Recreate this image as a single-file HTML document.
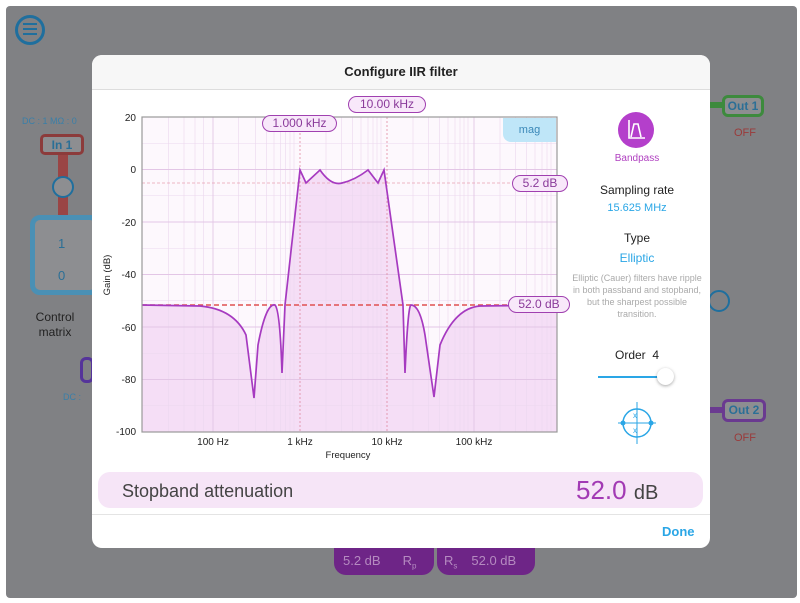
<!DOCTYPE html>
<html><head><meta charset="utf-8"><style>
body{margin:0;width:800px;height:603px;background:#fff;position:relative;overflow:hidden;font-family:"Liberation Sans",sans-serif}
.a{position:absolute}
.bg{left:6px;top:6px;width:791px;height:592px;background:#808184;border-radius:4px}
.modal{left:92px;top:55px;width:618px;height:493px;background:#fff;border-radius:10px;overflow:hidden}
.c{text-align:center}
.pill{border:1.5px solid #a040b0;border-radius:10px;background:#f8e8fa;color:#8a3a9a;font-size:12px;text-align:center;line-height:15px}
</style></head><body>
<div class="a bg"></div>
<div class="a" style="left:15px;top:15px;width:30px;height:30px;border:3px solid #1f6f9e;border-radius:50%;box-sizing:border-box"></div>
<div class="a" style="left:23px;top:23px;width:14px;height:2px;background:#1f6f9e;box-shadow:0 5px #1f6f9e,0 10px #1f6f9e"></div>
<div class="a" style="left:22px;top:116px;font-size:9px;color:#3a7fa8">DC : 1 MΩ : 0</div>
<div class="a" style="left:40px;top:134px;width:44px;height:21px;border:3px solid #8c3b3b;border-radius:5px;background:#8d8e91;box-sizing:border-box;color:#2b6f96;font-size:12px;font-weight:bold;text-align:center;line-height:16px">In 1</div>
<div class="a" style="left:58px;top:155px;width:10px;height:60px;background:#9a4545"></div>
<div class="a" style="left:52px;top:176px;width:22px;height:22px;border:2px solid #1f6f9e;border-radius:50%;background:#8d8e91;box-sizing:border-box"></div>
<div class="a" style="left:30px;top:215px;width:70px;height:80px;border:5px solid #4a90b5;border-radius:10px;background:#8d8e91;box-sizing:border-box"></div>
<div class="a" style="left:58px;top:236px;color:#2b6f96;font-size:13px">1</div>
<div class="a" style="left:58px;top:268px;color:#2b6f96;font-size:13px">0</div>
<div class="a c" style="left:20px;top:310px;width:70px;font-size:12px;color:#222;line-height:15px">Control<br>matrix</div>
<div class="a" style="left:80px;top:357px;width:14px;height:26px;border:3px solid #55349a;border-radius:6px;box-sizing:border-box"></div>
<div class="a" style="left:63px;top:392px;font-size:9px;color:#3a7fa8">DC : </div>
<div class="a" style="left:710px;top:102px;width:14px;height:6px;background:#3d8a3d"></div>
<div class="a" style="left:722px;top:95px;width:42px;height:22px;border:3px solid #3d8a3d;border-radius:6px;background:#8d8e91;box-sizing:border-box;color:#2b6f96;font-size:12px;font-weight:bold;text-align:center;line-height:16px">Out 1</div>
<div class="a" style="left:734px;top:127px;font-size:11px;color:#9a3a3a">OFF</div>
<div class="a" style="left:708px;top:290px;width:22px;height:22px;border:2px solid #1f6f9e;border-radius:50%;box-sizing:border-box"></div>
<div class="a" style="left:710px;top:407px;width:14px;height:6px;background:#6a3a90"></div>
<div class="a" style="left:722px;top:399px;width:44px;height:23px;border:3px solid #6a3a90;border-radius:6px;background:#8d8e91;box-sizing:border-box;color:#2b6f96;font-size:12px;font-weight:bold;text-align:center;line-height:17px">Out 2</div>
<div class="a" style="left:734px;top:432px;font-size:11px;color:#9a3a3a">OFF</div>
<div class="a" style="left:334px;top:545px;width:100px;height:30px;background:#6e2587;border-radius:0 0 12px 12px;color:#b58ac0;font-size:13px;line-height:32px"><span style="margin-left:9px">5.2 dB</span><span style="margin-left:22px">R<sub style="font-size:8px">p</sub></span></div>
<div class="a" style="left:437px;top:545px;width:98px;height:30px;background:#6e2587;border-radius:0 0 12px 12px;color:#b58ac0;font-size:13px;line-height:32px"><span style="margin-left:7px">R<sub style="font-size:8px">s</sub></span><span style="margin-left:14px">52.0 dB</span></div>

<div class="a modal">
 <div class="a" style="left:0;top:0;width:618px;height:34px;background:#f7f7f7;border-bottom:1px solid #ddd"></div>
 <div class="a c" style="left:0;top:9px;width:618px;font-size:13px;font-weight:bold;color:#222">Configure IIR filter</div>
 <div class="a" style="left:0;top:459px;width:618px;height:1px;background:#e4e4e4"></div>
 <div class="a" style="left:6px;top:417px;width:605px;height:36px;background:#f6e5f7;border-radius:12px"></div>
 <div class="a" style="left:30px;top:426px;font-size:18px;color:#444">Stopband attenuation</div>
 <div class="a" style="left:484px;top:420px;font-size:26px;color:#a23ab4">52.0 <span style="font-size:20px;color:#444">dB</span></div>
 <div class="a" style="left:570px;top:469px;font-size:13px;font-weight:bold;color:#2aa6e6">Done</div>
 <div class="a" style="left:526px;top:57px;width:36px;height:36px;border-radius:50%;background:#b43fcb"></div>
 <svg class="a" style="left:526px;top:57px" width="36" height="36"><path d="M11 8 V26 H27 M13 25 L16 12 H20 L23 25" stroke="#fff" stroke-width="1.6" fill="none"/></svg>
 <div class="a c" style="left:500px;top:98px;width:90px;font-size:10px;color:#b040c0">Bandpass</div>
 <div class="a c" style="left:490px;top:128px;width:110px;font-size:12px;color:#222">Sampling rate</div>
 <div class="a c" style="left:490px;top:147px;width:110px;font-size:11px;color:#2aa6e6">15.625 MHz</div>
 <div class="a c" style="left:490px;top:176px;width:110px;font-size:12px;color:#222">Type</div>
 <div class="a c" style="left:490px;top:196px;width:110px;font-size:12px;color:#2aa6e6">Elliptic</div>
 <div class="a c" style="left:476px;top:217px;width:138px;font-size:9px;color:#aaa;line-height:12px">Elliptic (Cauer) filters have ripple in both passband and stopband, but the sharpest possible transition.</div>
 <div class="a c" style="left:490px;top:293px;width:110px;font-size:12px;color:#222">Order&nbsp; 4</div>
 <div class="a" style="left:506px;top:321px;width:66px;height:2px;background:#2aa6e6"></div>
 <div class="a" style="left:565px;top:313px;width:17px;height:17px;border-radius:50%;background:#fff;box-shadow:0 1px 3px rgba(0,0,0,.35)"></div>
 <svg class="a" style="left:520px;top:343px" width="50" height="50"><circle cx="25" cy="25" r="14" fill="none" stroke="#2aa6e6" stroke-width="1.5"/><path d="M25 4V46M6 25H44" stroke="#2aa6e6" stroke-width="1"/><circle cx="11" cy="25" r="2.5" fill="#2aa6e6"/><circle cx="39" cy="25" r="2.5" fill="#2aa6e6"/><text x="21" y="20" font-size="8" fill="#2aa6e6" font-family="Liberation Sans">x</text><text x="21" y="35" font-size="8" fill="#2aa6e6" font-family="Liberation Sans">x</text></svg>
</div>

<svg class="a" style="left:0;top:0" width="800" height="603" font-family="Liberation Sans">
 <defs><clipPath id="cp"><rect x="142" y="117" width="415" height="315"/></clipPath></defs>
 <g clip-path="url(#cp)">
  <rect x="142" y="117" width="415" height="315" fill="#fdf8fd"/>
  <path id="cv" d="M142,305 L200,306 Q234,309 246,335 L254,398 L258,345 Q266,303 275,305 Q280,310 282,373 L285,305 L300,170 L306,183 L320,170 Q331,186 342,183 Q355,180 368,170 L378,183 L384,170 L403,305 L405,373 Q408,305 411,305 Q420,305 425,335 L434,397 L440,345 Q455,308 480,306 L557,305 L557,432 L142,432 Z" fill="#f5def6"/>
  <g stroke="#ecd8ee" stroke-width="0.6">
   <path d="M142,143.25H557M142,195.75H557M142,248.25H557M142,300.75H557M142,353.25H557M142,405.75H557"/>
   <path d="M168.5,117V432M184,117V432M195,117V432M203.5,117V432M238.5,117V432M255.5,117V432M266.5,117V432M274,117V432M280.5,117V432M285.5,117V432M290,117V432M294,117V432M326,117V432M341.5,117V432M352.5,117V432M361,117V432M368,117V432M373,117V432M377,117V432M381,117V432M413,117V432M428.5,117V432M439.5,117V432M448,117V432M455,117V432M460,117V432M464,117V432M468,117V432M500,117V432M515.5,117V432M526.5,117V432M535,117V432M542,117V432M547,117V432M551,117V432"/>
  </g>
  <g stroke="#e3c6e6" stroke-width="0.9">
   <path d="M142,169.5H557M142,222H557M142,274.5H557M142,327H557M142,379.5H557"/>
   <path d="M213,117V432M474,117V432"/>
  </g>
  <path d="M300,117V432M387,117V432" stroke="#e08aa0" stroke-width="0.8" stroke-dasharray="2,2"/>
  <path d="M142,183H557" stroke="#e8a0b0" stroke-width="0.8" stroke-dasharray="3,2"/>
  <path d="M142,305H557" stroke="#e05050" stroke-width="1.5" stroke-dasharray="5,3"/>
  <path d="M142,305 L200,306 Q234,309 246,335 L254,398 L258,345 Q266,303 275,305 Q280,310 282,373 L285,305 L300,170 L306,183 L320,170 Q331,186 342,183 Q355,180 368,170 L378,183 L384,170 L403,305 L405,373 Q408,305 411,305 Q420,305 425,335 L434,397 L440,345 Q455,308 480,306 L557,305" fill="none" stroke="#a63ac0" stroke-width="1.7"/>
 </g>
 <rect x="142" y="117" width="415" height="315" fill="none" stroke="#999" stroke-width="1.2"/>
 <g font-size="10" fill="#222" text-anchor="end">
  <text x="136" y="121">20</text><text x="136" y="173">0</text><text x="136" y="226">-20</text><text x="136" y="278">-40</text><text x="136" y="331">-60</text><text x="136" y="383">-80</text><text x="136" y="435">-100</text>
 </g>
 <g font-size="10" fill="#222" text-anchor="middle">
  <text x="213" y="445">100 Hz</text><text x="300" y="445">1 kHz</text><text x="387" y="445">10 kHz</text><text x="474" y="445">100 kHz</text>
  <text x="348" y="458" font-size="9.5">Frequency</text>
 </g>
 <text x="110" y="275" font-size="9.5" fill="#222" text-anchor="middle" transform="rotate(-90 110 275)">Gain (dB)</text>
</svg>
<div class="a" style="left:503px;top:118px;width:53px;height:24px;background:#bfe6f8;border-radius:0 0 0 8px;color:#3a88b8;font-size:11px;text-align:center;line-height:24px">mag</div>
<div class="a pill" style="left:262px;top:115px;width:73px">1.000 kHz</div>
<div class="a pill" style="left:348px;top:96px;width:76px">10.00 kHz</div>
<div class="a pill" style="left:512px;top:175px;width:54px">5.2 dB</div>
<div class="a pill" style="left:508px;top:296px;width:60px">52.0 dB</div>
</body></html>
